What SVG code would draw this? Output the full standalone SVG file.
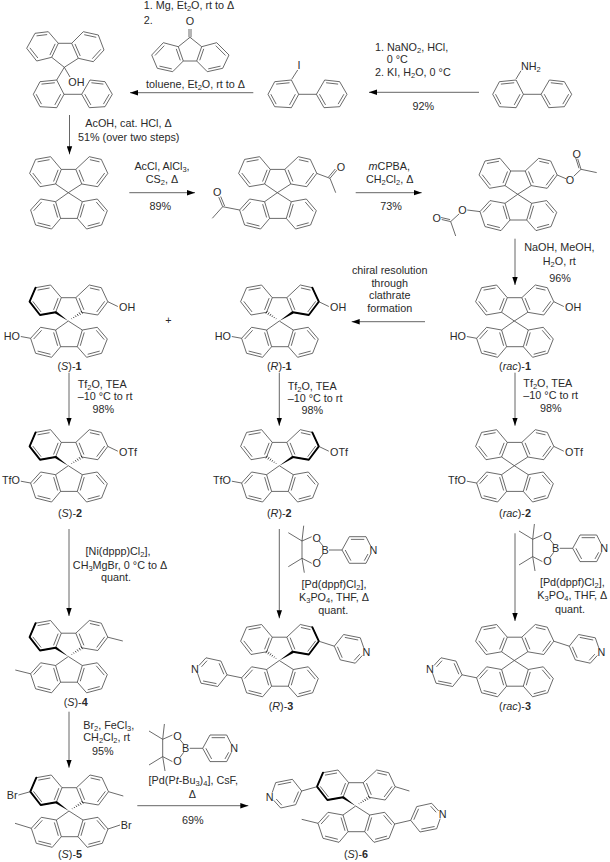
<svg xmlns="http://www.w3.org/2000/svg" width="610" height="862" viewBox="0 0 610 862">
<style>
text{font-family:"Liberation Sans",Arial,sans-serif;font-size:10.8px;fill:#2a2a2a}
.m{text-anchor:middle}.e{text-anchor:end}
.s{font-size:7.5px;baseline-shift:-2px}
.i{font-style:italic}.b{font-weight:bold}
.l{fill:none;stroke:#3a3a3a;stroke-width:.75}
.k{fill:none;stroke:#000;stroke-width:1.9;stroke-linejoin:round;stroke-linecap:round}
.h{fill:none;stroke:#000;stroke-width:.7}
.w{fill:#000}
.a{fill:none;stroke:#666;stroke-width:1;marker-end:url(#ah)}
</style>
<defs>
<marker id="ah" markerUnits="userSpaceOnUse" markerWidth="9" markerHeight="6" refX="8" refY="3" orient="auto"><path d="M0,.3L8,3L0,5.7Z" fill="#000"/></marker>
<g id="core">
<path class="l" d="M-7,-23.3L-12.7,-8.7L-28.3,-6L-38.7,-19.3L-32.7,-33.3L-17.7,-36ZM7.5,-23.3L13.5,-8.7L29.5,-6L39.5,-19.3L33,-33.3L21,-36ZM-7,-23.3L7.5,-23.3M-12.7,9L-27.7,6.3L-37.7,17.3L-32.7,32.3L-16.7,36.3L-7.7,25.7ZM14,9L29,6.3L39,18L33.3,32.3L18.3,36.3L9,25.7ZM-7.7,25.7L9,25.7M0,0L-12.7,9M0,0L14,9"/>
<path class="l" d="M-10.15,-22.86L-14.73,-11.18M-27.21,-9.02L-35.53,-19.66M-30.73,-30.86L-18.73,-33.02M10.8,-22.86L15.6,-11.18M28.4,-9.02L36.4,-19.66M31.2,-30.86L21.6,-33.02M-14.66,11.43L-10.66,24.79M-26.66,9.27L-34.66,18.07M-30.66,30.07L-17.86,33.27M15.95,11.45L11.95,24.81M27.95,9.29L35.95,18.65M31.39,30.09L19.39,33.29"/>
</g>
<g id="rac"><use href="#core"/><path class="l" d="M0,0L-12.7,-8.7M0,0L13.5,-8.7"/></g>
<path id="hash" class="h" d="M3.16,-2.52L3.6,-1.84M5.05,-4.03L5.75,-2.93M6.94,-5.55L7.92,-4.03M8.83,-7.06L10.07,-5.12M10.72,-8.58L12.24,-6.22M12.64,-10.04L14.36,-7.36"/>
<g id="S"><use href="#core"/><path class="k" d="M-32.7,-33.3L-38.7,-19.3L-28.3,-6L-12.7,-8.7"/><path class="w" d="M0,0L-11.97,-9.77L-13.43,-7.63Z"/><use href="#hash"/></g>
<g id="R"><use href="#core"/><path class="k" d="M33,-33.3L39.5,-19.3L29.5,-6L13.5,-8.7"/><path class="w" d="M0,0L12.8,-9.79L14.2,-7.61Z"/><use href="#hash" transform="scale(-.94,1)"/></g>
<g id="py">
<path class="l" d="M29.5,1.7L26,-8.4L9.3,-11.7L0,0L6,13.7L21,17L28,9.3"/>
<path class="l" d="M10.55,-8.8L23.91,-6.17M19.91,14.15L25.5,8M7.91,11.51L3.11,.55"/>
</g>
<g id="bpin">
<path class="l" d="M-2,-4L-6,-9M-2,4L-6,9.5M-13.3,-13.3L-23,-9L-23,8.3L-13.3,13.3M-23,-9L-36.7,-17.3M-23,-9L-21.3,-24.3M-23,8.3L-36.7,16.7M-23,8.3L-20.7,22.7M4,0L17,0L24.3,-13.3L41,-13.3L45.7,-4M45.7,4L41,13.3L24.3,13.3L17,0M25.91,-10.64L39.27,-10.64M39.27,10.64L43,4M25.91,10.64L20.19,0"/>
<text class="m" x="0" y="3.8">B</text><text class="m" x="-8.3" y="-8.5">O</text><text class="m" x="-8.3" y="16.5">O</text><text class="m" x="48.5" y="3.8">N</text>
</g>
<g id="biph">
<path class="l" d="M56.7,80L40,81.7L33.3,94.3L40,106.7L56.7,107.7L64,94.3ZM81.7,94.3L90,80L105,81.7L112.3,94.3L105,106.7L89.3,107.7ZM64,94.3L81.7,94.3"/>
<path class="l" d="M41.47,84.12L54.83,82.76M36.11,94.2L41.47,104.12M54.83,104.92L60.67,94.2M91.41,82.76L103.41,84.12M109.25,94.2L103.41,104.12M90.85,104.92L84.77,94.2"/>
</g>
</defs>

<g id="connectors">
<path class="a" d="M479,92.3L369,92.3"/>
<path class="a" d="M253.3,92.7L130,92.7"/>
<path class="a" d="M69.5,115L69.5,154.3"/>
<path class="a" d="M129.3,192.7L195,192.7"/>
<path class="a" d="M355.7,192.7L421.7,192.7"/>
<path class="a" d="M515,238.7L515,285"/>
<path class="a" d="M425,321.7L351.7,321.7"/>
<path class="a" d="M69,372.7L69,425.7"/>
<path class="a" d="M279.3,372.7L279.3,425.7"/>
<path class="a" d="M515,372.7L515,425.7"/>
<path class="a" d="M69,529L69,616"/>
<path class="a" d="M279.3,529L279.3,618.3"/>
<path class="a" d="M515,533.3L515,621"/>
<path class="a" d="M69,711.7L69,767.7"/>
<path class="a" d="M137.3,805.7L248.3,805.7"/>
</g>

<g id="amine">
<use href="#biph" x="459.4"/>
<path class="l" d="M516,79L521,70.7"/>
<text x="521" y="69.6">NH<tspan class="s">2</tspan></text>
</g>
<g id="iodide">
<use href="#biph" x="234.7"/>
<path class="l" d="M291.7,79.3L297.7,70"/>
<text class="m" x="299" y="68.6">I</text>
</g>
<g id="fluorenone">
<path class="l" d="M190,37.3L178.3,46.7L183.3,61L196.7,61L201.7,46.7ZM178.3,46.7L163.3,42.7L151.7,55L157.3,68.3L172.7,71.7L183.3,61M201.7,46.7L216.7,42.7L229,55L222.7,68.3L207.3,71.7L196.7,61M189,29L189,37.3M191,29L191,37.3"/>
<path class="l" d="M176.26,48.86L180.26,60.3M164.26,45.66L154.98,55.5M159.46,66.14L171.78,68.86M203.74,48.86L199.74,60.3M215.74,45.66L225.58,55.5M220.54,66.14L208.22,68.86"/>
<text class="m" x="190" y="24.8">O</text>
</g>
<g id="alcohol">
<path class="l" d="M64.3,67.3L51.7,57.3L58.3,43.3L71.7,43.3L78.3,58.3ZM51.7,57.3L36.7,61L26.7,48.3L35,33.3L48.3,31.7L58.3,43.3M71.7,43.3L83.3,31.7L98.3,35L104,50L93.3,61.7L78.3,58.3M64.3,67.3L56.7,80M64.3,67.3L70,77"/>
<path class="l" d="M49.9,55.06L55.17,43.86M37.89,58.02L29.89,47.86M36.53,35.86L47.17,34.58M74.98,43.97L80.26,55.97M84.26,34.69L96.26,37.33M100.82,49.33L92.26,58.69"/>
<use href="#biph"/>
<text x="68.3" y="85.5">OH</text>
</g>
<g id="spirobifluorene"><use href="#rac" x="68.3" y="192.7"/></g>
<g id="diacetyl" transform="translate(277.3,192.7)">
<use href="#rac"/>
<path class="l" d="M39.5,-19.3L52.7,-14.4L58.4,0M52.7,-14.4L59.5,-22.5M51.2,-15.6L58,-23.7M-37.7,17.3L-54.6,14L-65,25.6M-54.6,14L-58.5,4.5M-52.7,13.3L-56.6,3.8"/>
<text class="m" x="63.7" y="-22.2">O</text>
<text class="m" x="-60" y="3.4">O</text>
</g>
<g id="diacetoxy" transform="translate(517.7,194.3)">
<use href="#rac"/>
<path class="l" d="M39.5,-19.3L48.5,-15.5M56,-18L63.3,-25L79,-21.7M63.3,-25L60,-35.5M61.3,-26L58,-36.5M-37.7,17.3L-50.5,15.7M-58.5,19.5L-67,27.3L-62,41.7M-67,27.3L-76,25.2M-67.6,25.3L-76.6,23.2"/>
<text class="m" x="52.3" y="-10.5">O</text>
<text class="m" x="59" y="-36.5">O</text>
<text class="m" x="-55.3" y="19.5">O</text>
<text class="m" x="-81" y="27.8">O</text>
</g>

<g id="S-1" transform="translate(68.3,321)"><use href="#S"/>
<path class="l" d="M39.5,-19.3L49.5,-14.5M-37.7,17.3L-47.5,15.5"/>
<text x="50.7" y="-10">OH</text><text class="e" x="-48.3" y="18.8">HO</text></g>
<g id="R-1" transform="translate(279.3,321)"><use href="#R"/>
<path class="l" d="M39.5,-19.3L49.5,-14.5M-37.7,17.3L-47.5,15.5"/>
<text x="50.7" y="-10">OH</text><text class="e" x="-48.3" y="18.8">HO</text></g>
<g id="rac-1" transform="translate(514.3,321)"><use href="#rac"/>
<path class="l" d="M39.5,-19.3L49.5,-14.5M-37.7,17.3L-47.5,15.5"/>
<text x="50.7" y="-10">OH</text><text class="e" x="-48.3" y="18.8">HO</text></g>

<g id="S-2" transform="translate(68.3,465.7)"><use href="#S"/>
<path class="l" d="M39.5,-19.3L49.5,-14.5M-37.7,17.3L-47.5,15.5"/>
<text x="50.7" y="-10">OTf</text><text class="e" x="-48.3" y="18.8">TfO</text></g>
<g id="R-2" transform="translate(279.3,465.7)"><use href="#R"/>
<path class="l" d="M39.5,-19.3L49.5,-14.5M-37.7,17.3L-47.5,15.5"/>
<text x="50.7" y="-10">OTf</text><text class="e" x="-48.3" y="18.8">TfO</text></g>
<g id="rac-2" transform="translate(514.3,465.7)"><use href="#rac"/>
<path class="l" d="M39.5,-19.3L49.5,-14.5M-37.7,17.3L-47.5,15.5"/>
<text x="50.7" y="-10">OTf</text><text class="e" x="-48.3" y="18.8">TfO</text></g>

<g id="S-4" transform="translate(68.3,656.5)"><use href="#S"/>
<path class="l" d="M39.5,-19.3L54.5,-15.5M-37.7,17.3L-53,13.5"/></g>
<g id="R-3" transform="translate(279.3,660.5)"><use href="#R"/>
<path class="l" d="M39.5,-19.3L55,-14.3M-37.7,17.3L-52.3,14.3"/>
<use href="#py" transform="translate(55,-14.3)"/><use href="#py" transform="translate(-52.3,14.3) rotate(180)"/>
<text class="m" x="87" y="-4.5">N</text><text class="m" x="-84.3" y="12.1">N</text></g>
<g id="rac-3" transform="translate(514.3,660.5)"><use href="#rac"/>
<path class="l" d="M39.5,-19.3L55,-14.3M-37.7,17.3L-52.3,14.3"/>
<use href="#py" transform="translate(55,-14.3)"/><use href="#py" transform="translate(-52.3,14.3) rotate(180)"/>
<text class="m" x="87" y="-4.5">N</text><text class="m" x="-84.3" y="12.1">N</text></g>
<g id="S-5" transform="translate(69,811)"><use href="#S"/>
<path class="l" d="M39.5,-19.3L54.3,-15M-37.7,17.3L-54,12.3M-38.7,-19.3L-50.6,-16M39,18L51,14"/>
<text class="e" x="-51.5" y="-11.8">Br</text><text x="51.7" y="17.8">Br</text></g>
<g id="S-6" transform="translate(355.7,806)"><use href="#S"/>
<path class="l" d="M39.5,-19.3L53.7,-15M-37.7,17.3L-54,13.3M-38.7,-19.3L-54,-15M39,18L55,14.3"/>
<use href="#py" transform="translate(-54,-15) scale(-1,1)"/><use href="#py" transform="translate(55,14.3) scale(1,-1)"/>
<text class="m" x="-86" y="-5.2">N</text><text class="m" x="87" y="12.1">N</text></g>

<g id="bpin-R"><use href="#bpin" x="325" y="550"/></g>
<g id="bpin-rac"><use href="#bpin" x="555.7" y="548.3"/></g>
<g id="bpin-S"><use href="#bpin" x="185.7" y="748.3"/></g>

<g id="labels">
<text x="143.7" y="9">1. Mg, Et<tspan class="s">2</tspan>O, rt to Δ</text>
<text x="143.7" y="23.6">2.</text>
<text x="146" y="87.5">toluene, Et<tspan class="s">2</tspan>O, rt to Δ</text>
<text x="375" y="51">1. NaNO<tspan class="s">2</tspan>, HCl,</text>
<text x="386.7" y="63">0 °C</text>
<text x="375" y="75.6">2. KI, H<tspan class="s">2</tspan>O, 0 °C</text>
<text class="m" x="423.3" y="110.3">92%</text>
<text x="85.3" y="127">AcOH, cat. HCl, Δ</text>
<text x="78" y="140.6">51% (over two steps)</text>
<text class="m" x="162" y="169.6">AcCl, AlCl<tspan class="s">3</tspan>,</text>
<text class="m" x="162" y="183">CS<tspan class="s">2</tspan>, Δ</text>
<text class="m" x="160.3" y="210.3">89%</text>
<text class="m" x="389.3" y="169.6"><tspan class="i">m</tspan>CPBA,</text>
<text class="m" x="389.7" y="183">CH<tspan class="s">2</tspan>Cl<tspan class="s">2</tspan>, Δ</text>
<text class="m" x="391" y="210.3">73%</text>
<text x="524.3" y="251">NaOH, MeOH,</text>
<text class="m" x="559.3" y="265.3">H<tspan class="s">2</tspan>O, rt</text>
<text class="m" x="560" y="282">96%</text>
<text class="m" x="389.7" y="274.3">chiral resolution</text>
<text class="m" x="389.7" y="286.9">through</text>
<text class="m" x="389.7" y="299.3">clathrate</text>
<text class="m" x="389.7" y="311.9">formation</text>
<text class="m" x="168.3" y="324">+</text>
<text class="m" x="69.5" y="370">(<tspan class="i">S</tspan>)-<tspan class="b">1</tspan></text>
<text class="m" x="279.3" y="370">(<tspan class="i">R</tspan>)-<tspan class="b">1</tspan></text>
<text class="m" x="515" y="370">(<tspan class="i">rac</tspan>)-<tspan class="b">1</tspan></text>
<text x="77.7" y="388">Tf<tspan class="s">2</tspan>O, TEA</text>
<text x="77.7" y="400.3">–10 °C to rt</text>
<text class="m" x="103.3" y="413">98%</text>
<text x="287.7" y="389.6">Tf<tspan class="s">2</tspan>O, TEA</text>
<text x="287.7" y="402">–10 °C to rt</text>
<text class="m" x="312.2" y="414.3">98%</text>
<text x="523.3" y="387">Tf<tspan class="s">2</tspan>O, TEA</text>
<text x="523.3" y="399.3">–10 °C to rt</text>
<text class="m" x="550.7" y="412">98%</text>
<text class="m" x="70" y="517">(<tspan class="i">S</tspan>)-<tspan class="b">2</tspan></text>
<text class="m" x="279.3" y="517">(<tspan class="i">R</tspan>)-<tspan class="b">2</tspan></text>
<text class="m" x="515" y="517">(<tspan class="i">rac</tspan>)-<tspan class="b">2</tspan></text>
<text class="m" x="118" y="555.3">[Ni(dppp)Cl<tspan class="s">2</tspan>],</text>
<text class="m" x="120" y="568.6">CH<tspan class="s">3</tspan>MgBr, 0 °C to Δ</text>
<text class="m" x="116" y="581.3">quant.</text>
<text class="m" x="334" y="587.6">[Pd(dppf)Cl<tspan class="s">2</tspan>],</text>
<text class="m" x="334" y="601.3">K<tspan class="s">3</tspan>PO<tspan class="s">4</tspan>, THF, Δ</text>
<text class="m" x="333.3" y="614.3">quant.</text>
<text class="m" x="572.3" y="586">[Pd(dppf)Cl<tspan class="s">2</tspan>],</text>
<text class="m" x="572.3" y="599.3">K<tspan class="s">3</tspan>PO<tspan class="s">4</tspan>, THF, Δ</text>
<text class="m" x="570" y="613">quant.</text>
<text class="m" x="75.7" y="706">(<tspan class="i">S</tspan>)-<tspan class="b">4</tspan></text>
<text class="m" x="281" y="710.3">(<tspan class="i">R</tspan>)-<tspan class="b">3</tspan></text>
<text class="m" x="515" y="710.3">(<tspan class="i">rac</tspan>)-<tspan class="b">3</tspan></text>
<text class="m" x="70" y="857.6">(<tspan class="i">S</tspan>)-<tspan class="b">5</tspan></text>
<text class="m" x="356" y="857.6">(<tspan class="i">S</tspan>)-<tspan class="b">6</tspan></text>
<text x="83.3" y="728.6">Br<tspan class="s">2</tspan>, FeCl<tspan class="s">3</tspan>,</text>
<text x="83.3" y="741">CH<tspan class="s">2</tspan>Cl<tspan class="s">2</tspan>, rt</text>
<text class="m" x="102.7" y="754.6">95%</text>
<text class="m" x="193.3" y="784.3">[Pd(P<tspan class="i">t</tspan>-Bu<tspan class="s">3</tspan>)<tspan class="s">4</tspan>], CsF,</text>
<text class="m" x="192.3" y="797.6">Δ</text>
<text class="m" x="192.7" y="823.6">69%</text>
</g>
</svg>
